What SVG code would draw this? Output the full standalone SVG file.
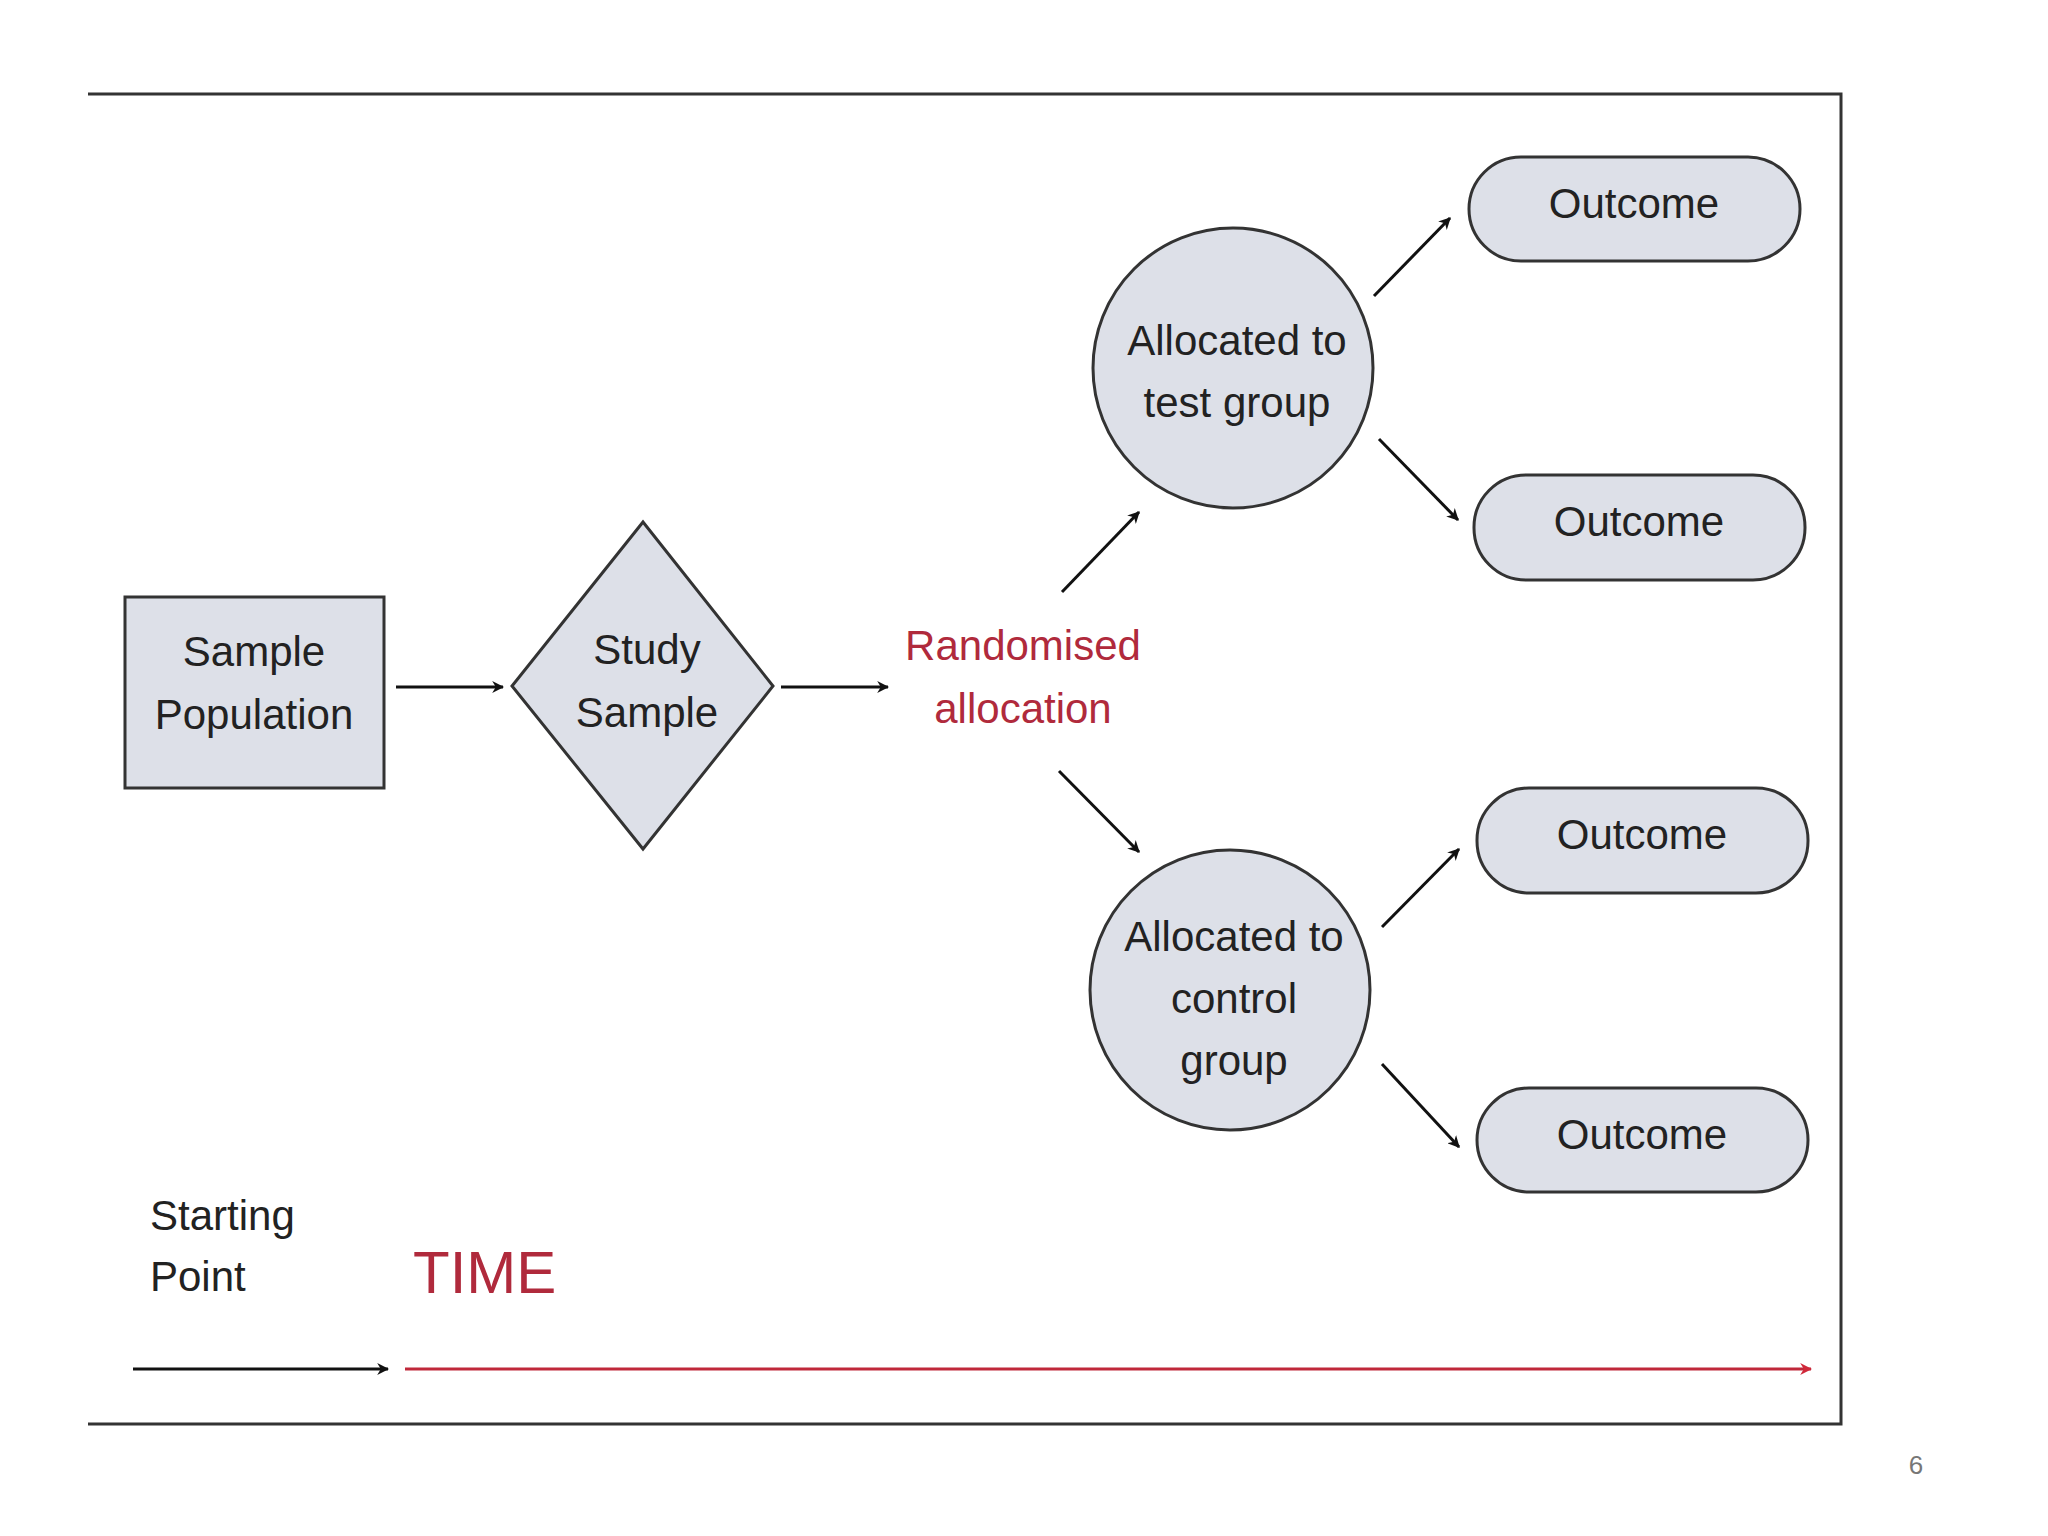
<svg xmlns="http://www.w3.org/2000/svg" width="2048" height="1536" viewBox="0 0 2048 1536">
<style>
.n{fill:#dde0e8;stroke:#333;stroke-width:3}
.t{font-family:"Liberation Sans",Arial,sans-serif;font-size:42px;fill:#222;text-anchor:middle}
.r{fill:#b02a3c}
.c{stroke:#111;stroke-width:3;fill:none;marker-end:url(#a)}
</style>
<defs>
<marker id="a" viewBox="0 0 10 10" refX="9" refY="5" markerWidth="12" markerHeight="12" markerUnits="userSpaceOnUse" orient="auto"><path d="M0,0 L10,5 L0,10 L3,5 z" fill="#111"/></marker>
<marker id="ar" viewBox="0 0 10 10" refX="9" refY="5" markerWidth="12" markerHeight="12" markerUnits="userSpaceOnUse" orient="auto"><path d="M0,0 L10,5 L0,10 L3,5 z" fill="#d0283a"/></marker>
</defs>
<rect width="2048" height="1536" fill="#fff"/>
<path d="M88,94 H1841 V1424 H88" fill="none" stroke="#333" stroke-width="3"/>
<g id="sample"><rect class="n" x="125" y="597" width="259" height="191"/><text class="t" x="254" y="666">Sample</text><text class="t" x="254" y="729">Population</text></g>
<g id="study"><path class="n" d="M643,522 L773,686 L643,849 L512,686 Z"/><text class="t" x="647" y="664">Study</text><text class="t" x="647" y="727">Sample</text></g>
<g id="rand"><text class="t r" x="1023" y="660">Randomised</text><text class="t r" x="1023" y="723">allocation</text></g>
<g id="test"><circle class="n" cx="1233" cy="368" r="140"/><text class="t" x="1237" y="355">Allocated to</text><text class="t" x="1237" y="417">test group</text></g>
<g id="control"><circle class="n" cx="1230" cy="990" r="140"/><text class="t" x="1234" y="951">Allocated to</text><text class="t" x="1234" y="1013">control</text><text class="t" x="1234" y="1075">group</text></g>
<g id="o1"><rect class="n" x="1469" y="157" width="331" height="104" rx="52"/><text class="t" x="1634" y="218">Outcome</text></g>
<g id="o2"><rect class="n" x="1474" y="475" width="331" height="105" rx="52"/><text class="t" x="1639" y="536">Outcome</text></g>
<g id="o3"><rect class="n" x="1477" y="788" width="331" height="105" rx="52"/><text class="t" x="1642" y="849">Outcome</text></g>
<g id="o4"><rect class="n" x="1477" y="1088" width="331" height="104" rx="52"/><text class="t" x="1642" y="1149">Outcome</text></g>
<g id="labels">
<text class="t" x="150" y="1230" style="text-anchor:start">Starting</text>
<text class="t" x="150" y="1291" style="text-anchor:start">Point</text>
<text class="t r" x="413" y="1293" style="text-anchor:start;font-size:60px">TIME</text>
<text x="1916" y="1474" style="font-family:'Liberation Sans',sans-serif;font-size:26px;fill:#777;text-anchor:middle">6</text>
</g>
<g id="connectors">
<path class="c" d="M396,687 H503"/>
<path class="c" d="M781,687 H888"/>
<path class="c" d="M1062,592 L1139,512"/>
<path class="c" d="M1059,771 L1139,852"/>
<path class="c" d="M1374,296 L1450,218"/>
<path class="c" d="M1379,439 L1458,520"/>
<path class="c" d="M1382,927 L1459,849"/>
<path class="c" d="M1382,1064 L1459,1147"/>
<path class="c" d="M133,1369 H388"/>
<path d="M405,1369 H1811" stroke="#c0283a" stroke-width="3" fill="none" marker-end="url(#ar)"/>
</g>
</svg>
